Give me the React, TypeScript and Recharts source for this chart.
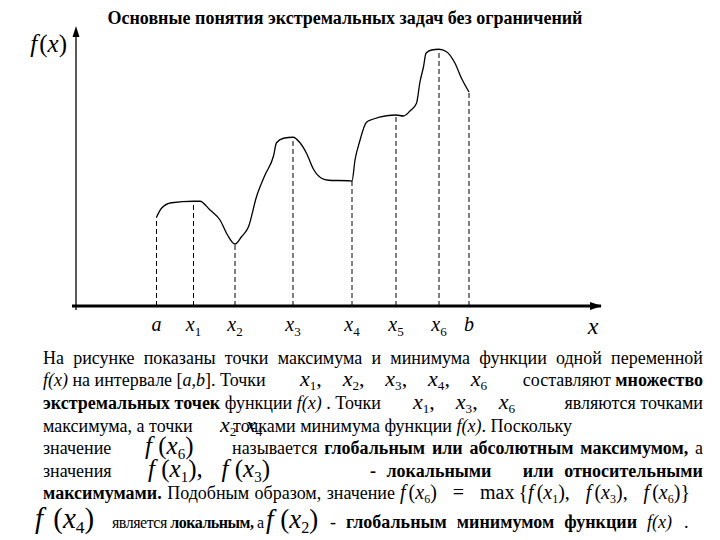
import React from 'react';
import { LineChart, Line, XAxis, YAxis, ReferenceLine, ReferenceDot } from 'recharts';

// curve f(x) (x: 50px per unit, y: 25px per unit)
const curveX = [1.61, 1.71, 1.91, 2.35, 2.48, 2.68, 2.88, 3.03, 3.18, 3.31, 3.45, 3.61, 3.78, 3.95, 4.01, 4.15, 4.34, 4.48, 4.61, 4.75, 4.91, 5.05, 5.45, 5.52, 5.58, 5.67, 5.81, 5.95, 6.21, 6.40, 6.55, 6.68, 6.81, 6.88, 6.95, 7.0, 7.11, 7.26, 7.41, 7.58, 7.71, 7.86];
const curveY = [3.55, 3.91, 4.13, 4.19, 4.19, 3.84, 3.44, 2.84, 2.48, 2.77, 3.17, 4.37, 5.24, 6.0, 6.53, 6.71, 6.75, 6.53, 6.11, 5.47, 5.11, 5.03, 5.01, 5.0, 5.84, 6.56, 7.35, 7.48, 7.61, 7.64, 7.6, 7.8, 8.11, 8.97, 9.57, 10.11, 10.24, 10.27, 10.17, 9.71, 9.11, 8.56];

// marked points on the x axis
const markNames = ['a', 'x1', 'x2', 'x3', 'x4', 'x5', 'x6', 'b'];
const markX = [1.61, 2.35, 3.18, 4.34, 5.52, 6.40, 7.26, 7.86];
const markF = [3.55, 4.19, 2.48, 6.75, 5.0, 7.64, 10.27, 8.56];

const data = curveX.map((x, i) => ({ x, f: curveY[i] }));

const serif = '"Liberation Serif", "Times New Roman", serif';

const MarkTick = (props: any) => {
  const { x, y, payload } = props;
  const name = markNames[markX.indexOf(payload.value)] || '';
  const letter = name[0];
  const sub = name.slice(1);
  return (
    <text x={x} y={y + 17} textAnchor="middle" fontFamily={serif} fontSize={20} fill="#000">
      <tspan fontStyle="italic">{letter}</tspan>
      {sub && <tspan fontSize={13} dy={5}>{sub}</tspan>}
    </text>
  );
};

const YArrow = (props: any) => {
  const { cx, cy } = props;
  return (
    <g>
      <polygon points={`${cx},${cy} ${cx - 3.5},${cy + 11} ${cx + 3.5},${cy + 11}`} fill="#000" />
      <text x={cx - 9} y={cy + 26} textAnchor="end" fontFamily={serif} fontSize={25} fill="#000">
        <tspan fontStyle="italic">f</tspan>
        <tspan dx={2}>(</tspan>
        <tspan fontStyle="italic">x</tspan>
        <tspan>)</tspan>
      </text>
    </g>
  );
};

const XArrow = (props: any) => {
  const { cx, cy } = props;
  return (
    <g>
      <polygon points={`${cx + 1},${cy} ${cx - 11},${cy - 4} ${cx - 11},${cy + 4}`} fill="#000" />
      <text x={cx - 8} y={cy + 28} textAnchor="middle" fontFamily={serif} fontStyle="italic" fontSize={24} fill="#000">x</text>
    </g>
  );
};

const Sub = ({ children }: any) => (
  <span style={{ fontSize: '0.6em', position: 'relative', top: '0.3em', fontStyle: 'normal' }}>{children}</span>
);
const X = ({ n }: { n: string }) => (
  <span style={{ whiteSpace: 'nowrap' }}><i>x</i><Sub>{n}</Sub></span>
);
const F = ({ n, gap = '0.15em' }: { n: string; gap?: string }) => (
  <span style={{ whiteSpace: 'nowrap' }}><i>f</i><span style={{ marginLeft: gap }}>(</span><X n={n} />)</span>
);
const M = ({ size, children }: any) => (
  <span style={{ fontSize: size, lineHeight: '14px' }}>{children}</span>
);

const Chunk = ({ l, r, b, align = 'justify', ls, fs = 18, children }: any) => {
  const pos: any = align === 'right' ? { right: 720 - r } : { left: l, width: r !== undefined ? r - l : undefined };
  return (
    <div
      style={{
        position: 'absolute',
        ...pos,
        top: b - 17,
        height: 23,
        fontSize: fs,
        lineHeight: '23px',
        whiteSpace: 'nowrap',
        textAlign: align,
        textAlignLast: align,
        letterSpacing: ls,
      }}
    >
      {children}
    </div>
  );
};

const App = () => {
  return (
    <div style={{ position: 'absolute', left: 0, top: 0, width: 720, height: 540, background: '#fff', fontFamily: serif, color: '#000' }}>
      <LineChart width={720} height={340} data={data} margin={{ top: 26, right: 119, bottom: 4, left: 72 }} style={{ position: 'absolute', left: 0, top: 0 }}>
        <XAxis
          dataKey="x"
          type="number"
          domain={[-0.08, 10.5]}
          allowDataOverflow
          ticks={markX}
          interval={0}
          tickLine={false}
          axisLine={{ stroke: '#000', strokeWidth: 3 }}
          tick={MarkTick}
          height={30}
        />
        <YAxis type="number" domain={[0, 11.2]} allowDataOverflow hide />
        <ReferenceLine segment={[{ x: 0, y: -0.16 }, { x: 0, y: 11.0 }]} stroke="#000" strokeWidth={1.3} ifOverflow="visible" />
        {markX.map((mx, i) => (
          <ReferenceLine
            key={markNames[i]}
            segment={[{ x: mx, y: 0 }, { x: mx, y: markF[i] }]}
            stroke="#000"
            strokeWidth={1}
            strokeDasharray="5 3"
            ifOverflow="visible"
          />
        ))}
        <Line type="monotone" dataKey="f" stroke="#000" strokeWidth={1.3} dot={false} isAnimationActive={false} />
        <ReferenceDot x={0} y={11.2} r={0} shape={YArrow} ifOverflow="visible" />
        <ReferenceDot x={10.5} y={0} r={0} shape={XArrow} ifOverflow="visible" />
      </LineChart>

      <div style={{ position: 'absolute', left: 0, top: 7, width: 690, textAlign: 'center', fontSize: 18, lineHeight: '22px', fontWeight: 'bold' }}>
        Основные понятия экстремальных задач без ограничений
      </div>

      <Chunk l={43} r={703} b={364}>На рисунке показаны точки максимума и минимума функции одной переменной</Chunk>

      <Chunk l={43} r={265} b={386}><i>f(x)</i> на интервале [<i>a</i>,<i>b</i>]. Точки</Chunk>
      <Chunk l={300} r={487} b={386}><M size={22}><X n="1" />, <X n="2" />, <X n="3" />, <X n="4" />, <X n="6" /></M></Chunk>
      <Chunk r={703} b={386} align="right">составляют <b>множество</b></Chunk>

      <Chunk l={43} b={409} align="left"><b>экстремальных точек</b> функции&nbsp;<i>f(x)</i> . Точки</Chunk>
      <Chunk l={413} r={515} b={409}><M size={22}><X n="1" />, <X n="3" />, <X n="6" /></M></Chunk>
      <Chunk r={703} b={409} align="right">являются точками</Chunk>

      <Chunk l={43} b={432} align="left">максимума, а точки</Chunk>
      <Chunk l={220} b={432} align="left"><M size={22}><X n="2" /></M></Chunk>
      <Chunk l={246} b={432} align="left"><M size={22}><X n="4" /></M></Chunk>
      <Chunk l={233} b={432} align="left">точками минимума функции&nbsp;<i>f(x)</i>. Поскольку</Chunk>

      <Chunk l={43} b={454} align="left">значение</Chunk>
      <Chunk l={145} b={454} align="left"><M size={25}><F n="6" gap="0.25em" /></M></Chunk>
      <Chunk l={232} r={703} b={454}>называется <b>глобальным или абсолютным максимумом,</b> а</Chunk>

      <Chunk l={43} b={477} align="left">значения</Chunk>
      <Chunk l={148} r={270} b={477}><M size={25}><F n="1" gap="0.25em" />, <F n="3" gap="0.25em" /></M></Chunk>
      <Chunk l={370} r={703} b={477}><b>- локальными&nbsp;&nbsp; или относительными</b></Chunk>

      <Chunk l={43} r={395} b={499}><b>максимумами.</b> Подобным образом, значение</Chunk>
      <Chunk l={400} r={690} b={499}><M size={20}><F n="6" /> = max&#8201;{'{'}<F n="1" />, <F n="3" />, <F n="6" />{'}'}</M></Chunk>

      <Chunk l={35} b={528} align="left"><M size={29}><F n="4" gap="0.35em" /></M></Chunk>
      <Chunk l={112} r={262} b={528} fs={16} ls="-0.5px">является <b>локальным,</b> а</Chunk>
      <Chunk l={266} b={528} align="left"><M size={27}><F n="2" gap="0.25em" /></M></Chunk>
      <Chunk l={330} r={672} b={528}>- <b>глобальным минимумом функции</b> <i>f(x)</i></Chunk>
      <Chunk l={684} b={528} align="left">.</Chunk>
    </div>
  );
};

export default App;
